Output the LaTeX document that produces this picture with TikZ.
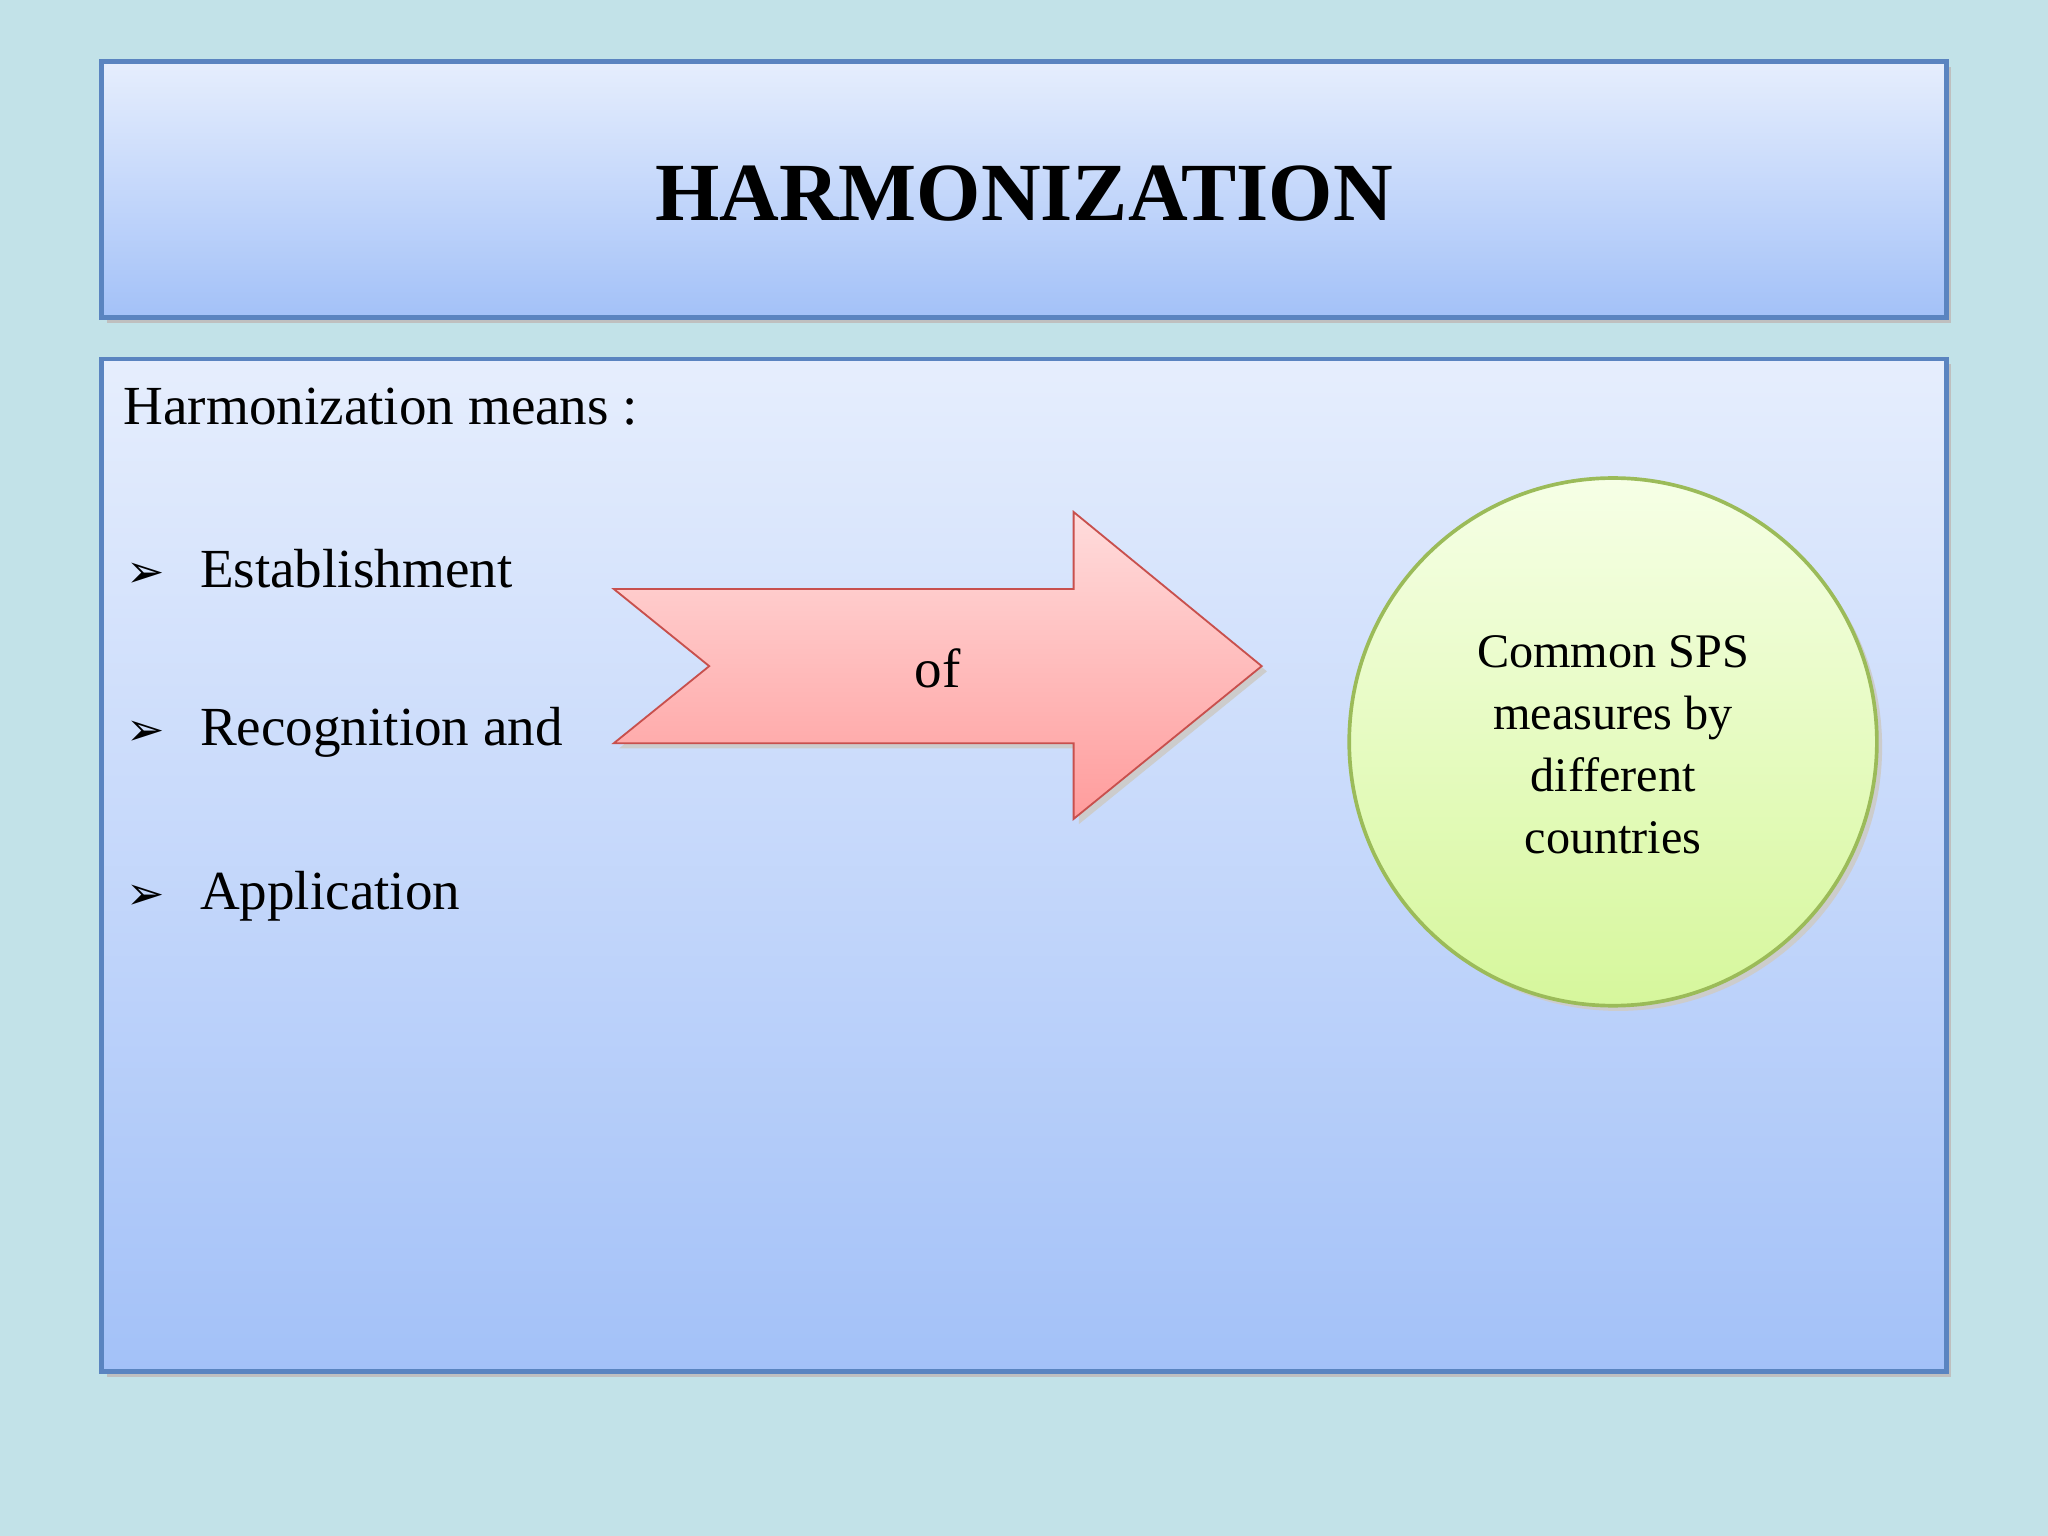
\documentclass[tikz,border=0pt]{standalone}
\usepackage{fontspec}
\setmainfont{Liberation Serif}
\newfontfamily\symf{DejaVu Sans}
\definecolor{bg}{HTML}{C2E2E8}
\definecolor{boxtop}{HTML}{E6EEFD}
\definecolor{boxbot}{HTML}{A3C1F8}
\definecolor{boxline}{HTML}{5A84C0}
\definecolor{arrtop}{HTML}{FFDCDC}
\definecolor{arrbot}{HTML}{FF9C9C}
\definecolor{arrline}{HTML}{C8504D}
\definecolor{circtop}{HTML}{F6FFE6}
\definecolor{circbot}{HTML}{D6F79C}
\definecolor{circline}{HTML}{9BBB59}
\tikzset{
 panel/.style={draw=boxline,line width=1pt,top color=boxtop,bottom color=boxbot},
 bul/.style={anchor=west,font=\fontsize{12}{14}\selectfont,inner sep=0pt},
}
\begin{document}
\begin{tikzpicture}[x=0.01cm,y=-0.01cm]
\fill[bg] (0,0) rectangle (1568,1176);
\fill[black!25] (82,51) rectangle (1494,247);
\node[panel,minimum width=14.12cm,minimum height=1.96cm,inner sep=0pt] (title) at (784,145) {};
\node[font=\bfseries\fontsize{18}{20}\selectfont] (tt) at (784,148) {HARMONIZATION};
\fill[black!25] (82,279) rectangle (1494,1054);
\node[panel,minimum width=14.12cm,minimum height=7.75cm,inner sep=0pt] (main) at (784,662.5) {};
\node[bul] (hm) at (94,311) {Harmonization means :};
\node[bul] (b1) at (96,435) {{\symf\fontsize{10}{12}\selectfont ➢}\hspace{0.27cm}Establishment};
\node[bul] (b2) at (96,561) {{\symf\fontsize{10}{12}\selectfont ➢}\hspace{0.27cm}Recognition and};
\node[bul] (b3) at (96,686) {{\symf\fontsize{10}{12}\selectfont ➢}\hspace{0.27cm}Application};
\fill[black!20] (474,455) -- (826,455) -- (826,396) -- (970,514) -- (826,631) -- (826,573) -- (474,573) -- (547,514) -- cycle;
\draw[arrline,top color=arrtop,bottom color=arrbot] (470,451) -- (822,451) -- (822,392) -- (966,510) -- (822,627) -- (822,569) -- (470,569) -- (543,510) -- cycle;
\node[font=\fontsize{12}{14}\selectfont] (of) at (718,512) {of};
\fill[black!20] (1239,572) circle (202);
\draw[circline,line width=0.8pt,top color=circtop,bottom color=circbot] (1235,568) circle (202);
\node[align=center,font=\fontsize{10.5}{13.5}\selectfont] (ct) at (1235,570) {Common SPS\\measures by\\different\\countries};
\end{tikzpicture}
\end{document}
